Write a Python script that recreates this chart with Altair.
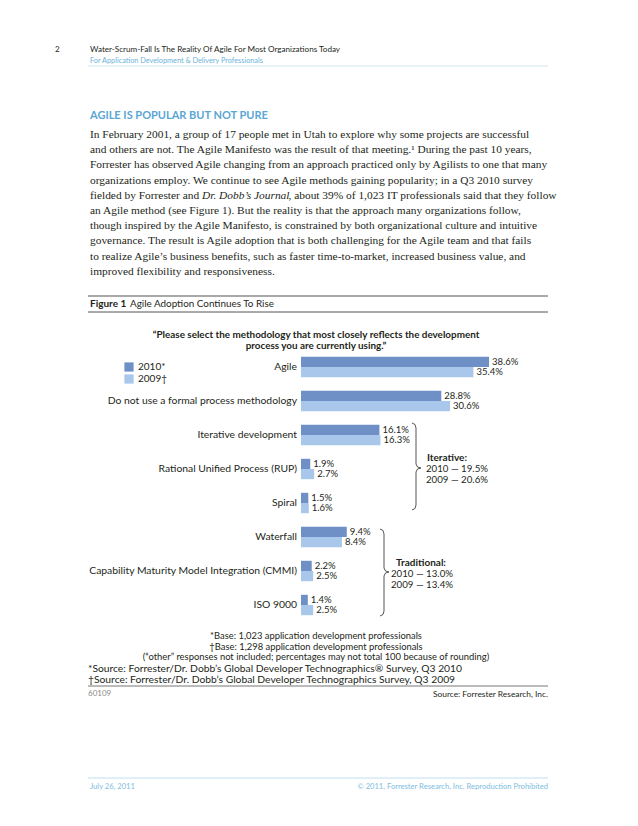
import altair as alt
import pandas as pd

# ---------------- data ----------------
categories = [
    "Agile",
    "Do not use a formal process methodology",
    "Iterative development",
    "Rational Unified Process (RUP)",
    "Spiral",
    "Waterfall",
    "Capability Maturity Model Integration (CMMI)",
    "ISO 9000",
]
values_2010 = [38.6, 28.8, 16.1, 1.9, 1.5, 9.4, 2.2, 1.4]
values_2009 = [35.4, 30.6, 16.3, 2.7, 1.6, 8.4, 2.5, 2.5]
series = ["2010*", "2009\u2020"]
series_colors = ["#6f8fc7", "#a9c7eb"]

header_page = "2"
header_title = "Water-Scrum-Fall Is The Reality Of Agile For Most Organizations Today"
header_sub = "For Application Development & Delivery Professionals"
section_heading = "AGILE IS POPULAR BUT NOT PURE"
body_lines = [
    "In February 2001, a group of 17 people met in Utah to explore why some projects are successful",
    "and others are not. The Agile Manifesto was the result of that meeting.\u00b9 During the past 10 years,",
    "Forrester has observed Agile changing from an approach practiced only by Agilists to one that many",
    "organizations employ. We continue to see Agile methods gaining popularity; in a Q3 2010 survey",
    None,
    "an Agile method (see Figure 1). But the reality is that the approach many organizations follow,",
    "though inspired by the Agile Manifesto, is constrained by both organizational culture and intuitive",
    "governance. The result is Agile adoption that is both challenging for the Agile team and that fails",
    "to realize Agile\u2019s business benefits, such as faster time-to-market, increased business value, and",
    "improved flexibility and responsiveness.",
]
body_line5_parts = [
    "fielded by Forrester and",
    "Dr. Dobb\u2019s Journal",
    ", about 39% of 1,023 IT professionals said that they follow",
]
figure_label = "Figure 1"
figure_title = "Agile Adoption Continues To Rise"
question_lines = [
    "\u201cPlease select the methodology that most closely reflects the development",
    "process you are currently using.\u201d",
]
iterative_lines = ["Iterative:", "2010 \u2014 19.5%", "2009 \u2014 20.6%"]
traditional_lines = ["Traditional:", "2010 \u2014 13.0%", "2009 \u2014 13.4%"]
base_lines = [
    "*Base: 1,023 application development professionals",
    "\u2020Base: 1,298 application development professionals",
    "(\u201cother\u201d responses not included; percentages may not total 100 because of rounding)",
]
source_lines = [
    "*Source: Forrester/Dr. Dobb\u2019s Global Developer Technographics\u00ae Survey, Q3 2010",
    "\u2020Source: Forrester/Dr. Dobb\u2019s Global Developer Technographics Survey, Q3 2009",
]
figure_id = "60109"
figure_source = "Source: Forrester Research, Inc."
footer_date = "July 26, 2011"
footer_copy = "\u00a9 2011, Forrester Research, Inc. Reproduction Prohibited"

# ---------------- layout helpers ----------------
M = 8  # page margin
SANS = "Lato"
SERIF = "Liberation Serif"
INK = "#231f20"
BLUE = "#5aa6d4"
BODY_SIZE = 11.4
BODY_Y0 = 135
BODY_STEP = 15.2


def T(rows, **kw):
    df = pd.DataFrame([(x - M, y - M, t) for x, y, t in rows], columns=["x", "y", "t"])
    kw.setdefault("baseline", "middle")
    kw.setdefault("align", "left")
    kw.setdefault("font", SANS)
    kw.setdefault("color", INK)
    return alt.Chart(df).mark_text(**kw).encode(
        x=alt.X("x:Q", scale=None, axis=None),
        y=alt.Y("y:Q", scale=None, axis=None),
        text="t:N",
    )


def R(rows, color, width=1.0):
    df = pd.DataFrame([(x1 - M, x2 - M, y - M) for x1, x2, y in rows], columns=["x", "x2", "y"])
    return alt.Chart(df).mark_rule(color=color, strokeWidth=width).encode(
        x=alt.X("x:Q", scale=None, axis=None),
        x2="x2:Q",
        y=alt.Y("y:Q", scale=None, axis=None),
    )


def brace(x, top, mid, bottom, name):
    pts = [
        (x - 4, top), (x - 1, top + 1.5), (x, top + 5),
        (x, mid - 4), (x + 1.5, mid - 1), (x + 5, mid),
        (x + 1.5, mid + 1), (x, mid + 4),
        (x, bottom - 5), (x - 1, bottom - 1.5), (x - 4, bottom),
    ]
    return [(name, i, px - M, py - M) for i, (px, py) in enumerate(pts)]


# ---------------- chart data ----------------
bars = pd.DataFrame(
    [(c, series[0], v, f"{v:.1f}%") for c, v in zip(categories, values_2010)]
    + [(c, series[1], v, f"{v:.1f}%") for c, v in zip(categories, values_2009)],
    columns=["cat", "year", "value", "label"],
)

xscale = alt.Scale(domain=[0, 38.6], range=[301 - M, 489 - M], nice=False, zero=True)
yscale = alt.Scale(domain=categories, range=[350 - M, 622 - M], paddingInner=0.4, paddingOuter=0.2)
yoff = alt.YOffset("year:N", sort=series, scale=alt.Scale(domain=series, paddingInner=0, paddingOuter=0))

bar_layer = alt.Chart(bars).mark_bar().encode(
    x=alt.X("value:Q", scale=xscale, axis=None),
    y=alt.Y("cat:N", sort=categories, scale=yscale, axis=None),
    yOffset=yoff,
    color=alt.Color(
        "year:N",
        sort=series,
        scale=alt.Scale(domain=series, range=series_colors),
        legend=alt.Legend(
            orient="none", legendX=124 - M, legendY=362 - M, title=None,
            symbolType="square", symbolSize=85, symbolStrokeWidth=0,
            labelFont=SANS, labelFontSize=10, labelColor=INK, rowPadding=2,
            labelOffset=4, padding=0,
        ),
    ),
)

value_labels = alt.Chart(bars).mark_text(
    align="left", baseline="middle", dx=3, font=SANS, fontSize=9.5, color=INK
).encode(
    x=alt.X("value:Q", scale=xscale, axis=None),
    y=alt.Y("cat:N", sort=categories, scale=yscale, axis=None),
    yOffset=yoff,
    text="label:N",
)

cat_labels = alt.Chart(pd.DataFrame({"cat": categories})).mark_text(
    align="right", baseline="middle", font=SANS, fontSize=10.35, color=INK
).encode(
    x=alt.value(297 - M),
    y=alt.Y("cat:N", sort=categories, scale=yscale, axis=None),
    text="cat:N",
)

braces = pd.DataFrame(
    brace(416, 423, 468, 510, "iter") + brace(384, 529, 572, 616, "trad"),
    columns=["b", "i", "x", "y"],
)
brace_layer = alt.Chart(braces).mark_line(color="#555555", strokeWidth=1).encode(
    x=alt.X("x:Q", scale=None, axis=None),
    y=alt.Y("y:Q", scale=None, axis=None),
    detail="b:N",
    order="i:Q",
)

y5 = BODY_Y0 + 4 * BODY_STEP

# ---------------- page text ----------------
layers = [
    # header
    T([(55, 50, header_page), (90, 50, header_title)], fontSize=8.1),
    T([(90, 61, header_sub)], fontSize=7.3, color="#6cb3da"),
    R([(88, 548, 66)], "#cfe6f2"),
    # heading
    T([(90, 116, section_heading)], fontSize=11, fontWeight="bold", color=BLUE),
    # body
    T([(90, BODY_Y0 + i * BODY_STEP, s) for i, s in enumerate(body_lines) if s], font=SERIF, fontSize=BODY_SIZE),
    T([(90, y5, body_line5_parts[0]), (288.5, y5, body_line5_parts[2])], font=SERIF, fontSize=BODY_SIZE),
    T([(202, y5, body_line5_parts[1])], font=SERIF, fontSize=BODY_SIZE, fontStyle="italic"),
    # figure title
    R([(88, 548, 296), (88, 548, 312)], "#555555", 1),
    T([(90, 304, figure_label)], fontSize=10, fontWeight="bold"),
    T([(130, 304, figure_title)], fontSize=9.9),
    T([(316, 335 + i * 10.5, s) for i, s in enumerate(question_lines)], align="center",
      fontSize=9.9, fontWeight="bold"),
    # chart
    bar_layer,
    value_labels,
    cat_labels,
    brace_layer,
    T([(447, 458, iterative_lines[0])], align="center", fontSize=10, fontWeight="bold"),
    T([(426, 469, iterative_lines[1]), (426, 480, iterative_lines[2])], fontSize=9.7),
    T([(421, 563, traditional_lines[0])], align="center", fontSize=10, fontWeight="bold"),
    T([(391, 574, traditional_lines[1]), (391, 585, traditional_lines[2])], fontSize=9.7),
    # notes
    T([(316, 636 + i * 10.5, s) for i, s in enumerate(base_lines)], align="center", fontSize=9.4),
    T([(88, 669 + i * 10.5, s) for i, s in enumerate(source_lines)], fontSize=10.3),
    R([(88, 548, 686)], "#777777", 1),
    T([(88, 694, figure_id)], fontSize=8, color="#8a8a8a"),
    T([(548, 694, figure_source)], align="right", fontSize=8.4),
    # footer
    R([(88, 548, 778)], "#bfe0f0", 1),
    T([(90, 787, footer_date)], fontSize=7.6, color="#7dbde0"),
    T([(548, 787, footer_copy)], align="right", fontSize=7.6, color="#7dbde0"),
]

chart = (
    alt.layer(*layers)
    .resolve_scale(x="independent", y="independent", color="independent")
    .properties(width=622, height=810, padding=0, autosize=alt.AutoSizeParams(type="none"),
                background="white")
    .configure_view(stroke=None)
)

chart.save("out.html", embed_options={"renderer": "svg", "actions": False})
